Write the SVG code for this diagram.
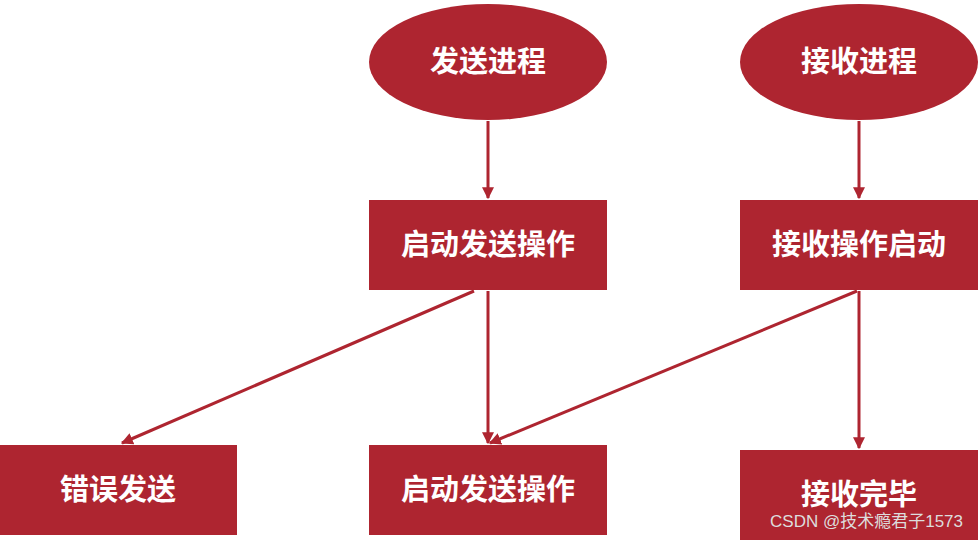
<svg xmlns="http://www.w3.org/2000/svg" width="979" height="540" viewBox="0 0 979 540">
<style>
.n{fill:#ae2530}
.t{fill:#fff;font-family:"Liberation Sans","Noto Sans CJK SC",sans-serif;font-weight:bold;font-size:29px;text-anchor:middle;dominant-baseline:central}
.c{stroke:#ae2530;stroke-width:3;fill:none;marker-end:url(#a)}
</style>
<defs><marker id="a" viewBox="0 0 10 10" refX="9" refY="5" markerWidth="4" markerHeight="4" orient="auto"><path d="M0,0L10,5L0,10z" fill="#ae2530"/></marker></defs>
<rect width="979" height="540" fill="#fff"/>
<g id="edges">
<path class="c" d="M488,121V198"/>
<path class="c" d="M859,121V198"/>
<path class="c" d="M474,291L122,443"/>
<path class="c" d="M488,291V443"/>
<path class="c" d="M857,291L490,443"/>
<path class="c" d="M859,291V448"/>
</g>
<g id="p1"><ellipse class="n" cx="488" cy="62" rx="119" ry="58"/><text class="t" x="488" y="62">发送进程</text></g>
<g id="p2"><ellipse class="n" cx="859" cy="62" rx="119" ry="58"/><text class="t" x="859" y="62">接收进程</text></g>
<g id="s1"><rect class="n" x="369" y="200" width="238" height="90"/><text class="t" x="488" y="245">启动发送操作</text></g>
<g id="r1"><rect class="n" x="740" y="200" width="238" height="90"/><text class="t" x="859" y="245">接收操作启动</text></g>
<g id="e"><rect class="n" x="0" y="445" width="237" height="90"/><text class="t" x="118" y="490">错误发送</text></g>
<g id="s2"><rect class="n" x="369" y="445" width="238" height="90"/><text class="t" x="488" y="490">启动发送操作</text></g>
<g id="r2"><rect class="n" x="740" y="450" width="238" height="90"/><text class="t" x="859" y="495">接收完毕</text></g>
<text x="963" y="527" font-family="Liberation Sans,Noto Sans CJK SC,sans-serif" font-size="17" fill="#ddd" text-anchor="end">CSDN @技术瘾君子1573</text>
</svg>
